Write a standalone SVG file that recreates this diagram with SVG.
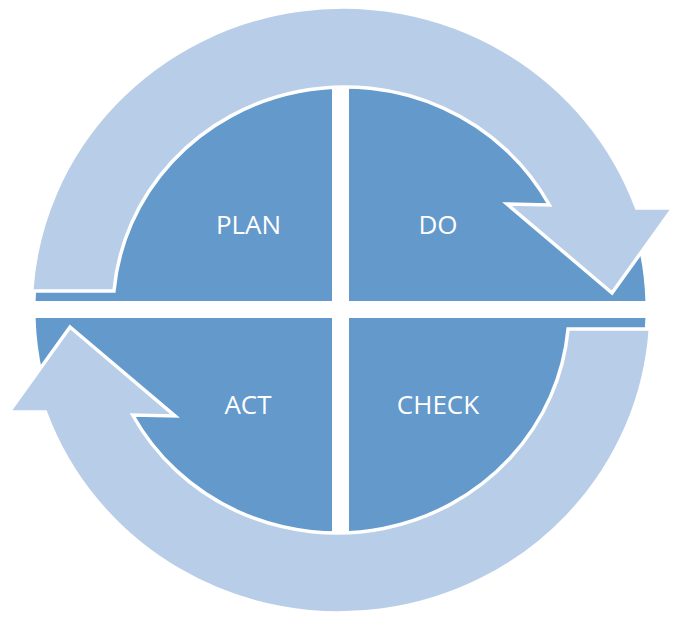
<svg xmlns="http://www.w3.org/2000/svg" xmlns:xlink="http://www.w3.org/1999/xlink" width="685" height="621" viewBox="0 0 685 621">
  <style>
    .quad { fill: #6399CB; }
    .lbl { font-family: "Open Sans", "Noto Sans", "Liberation Sans", sans-serif; font-size: 26px; fill: #FFFFFF; text-anchor: middle; }
    .arrow { fill: #B8CDE7; stroke: #FFFFFF; stroke-width: 3.5; stroke-linejoin: miter; }
  </style>
  <defs>
    <path id="cycleArrow" d="M 31.68 291 A 312 304 0 0 1 636.55 208 L 673 208 L 612 293 L 507 204 L 549.38 205 A 232 224 0 0 0 113.93 291 Z"/>
  </defs>
  <rect width="685" height="621" fill="#FFFFFF"/>
  <g id="plan">
    <path class="quad" d="M 332 301 L 332 13.6 A 305 296 0 0 0 35.6 301 Z"/>
  </g>
  <g id="do">
    <path class="quad" d="M 349 301 L 349 13.6 A 305 296 0 0 1 645.4 301 Z"/>
  </g>
  <g id="act">
    <path class="quad" d="M 332 318 L 332 605.4 A 305 296 0 0 1 35.6 318 Z"/>
  </g>
  <g id="check">
    <path class="quad" d="M 349 318 L 349 605.4 A 305 296 0 0 0 645.4 318 Z"/>
  </g>
  <g id="connectors">
    <use xlink:href="#cycleArrow" class="arrow"/>
    <use xlink:href="#cycleArrow" class="arrow" transform="rotate(180 341 310)"/>
  </g>
  <g id="labels">
    <text class="lbl" x="248.5" y="234">PLAN</text>
    <text class="lbl" x="438" y="234">DO</text>
    <text class="lbl" x="248" y="414">ACT</text>
    <text class="lbl" x="438" y="414">CHECK</text>
  </g>
</svg>
